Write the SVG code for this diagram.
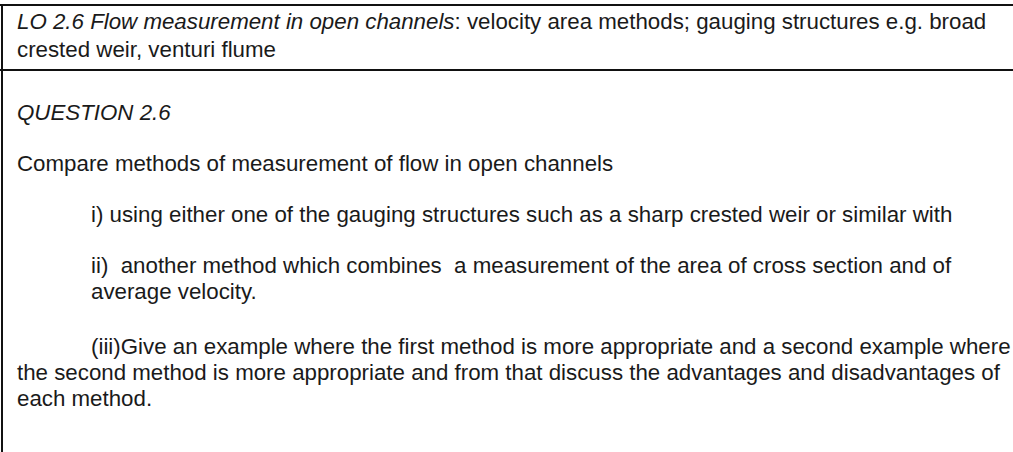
<svg xmlns="http://www.w3.org/2000/svg" width="1013" height="452" viewBox="0 0 1013 452">
<style>text{font-family:"Liberation Sans",Arial,sans-serif;font-size:22.3px;fill:#1a1a1a;white-space:pre}.i{font-style:italic}line{stroke:#111;stroke-width:2}</style>
<rect width="1013" height="452" fill="#fff"/>
<line x1="0" y1="5" x2="1013" y2="5"/>
<line x1="0" y1="70" x2="1013" y2="70"/>
<line x1="2" y1="5" x2="2" y2="452"/>
<text x="17" y="29"><tspan class="i">LO 2.6 Flow measurement in open channels</tspan>: velocity area methods; gauging structures e.g. broad</text>
<text x="17" y="57">crested weir, venturi flume</text>
<text x="17" y="120" class="i">QUESTION 2.6</text>
<text x="17" y="171">Compare methods of measurement of flow in open channels</text>
<text x="91" y="222">i) using either one of the gauging structures such as a sharp crested weir or similar with</text>
<text x="91" y="273" xml:space="preserve">ii)  another method which combines  a measurement of the area of cross section and of</text>
<text x="91" y="299">average velocity.</text>
<text x="91" y="354">(iii)Give an example where the first method is more appropriate and a second example where</text>
<text x="17" y="380">the second method is more appropriate and from that discuss the advantages and disadvantages of</text>
<text x="17" y="406">each method.</text>
</svg>
